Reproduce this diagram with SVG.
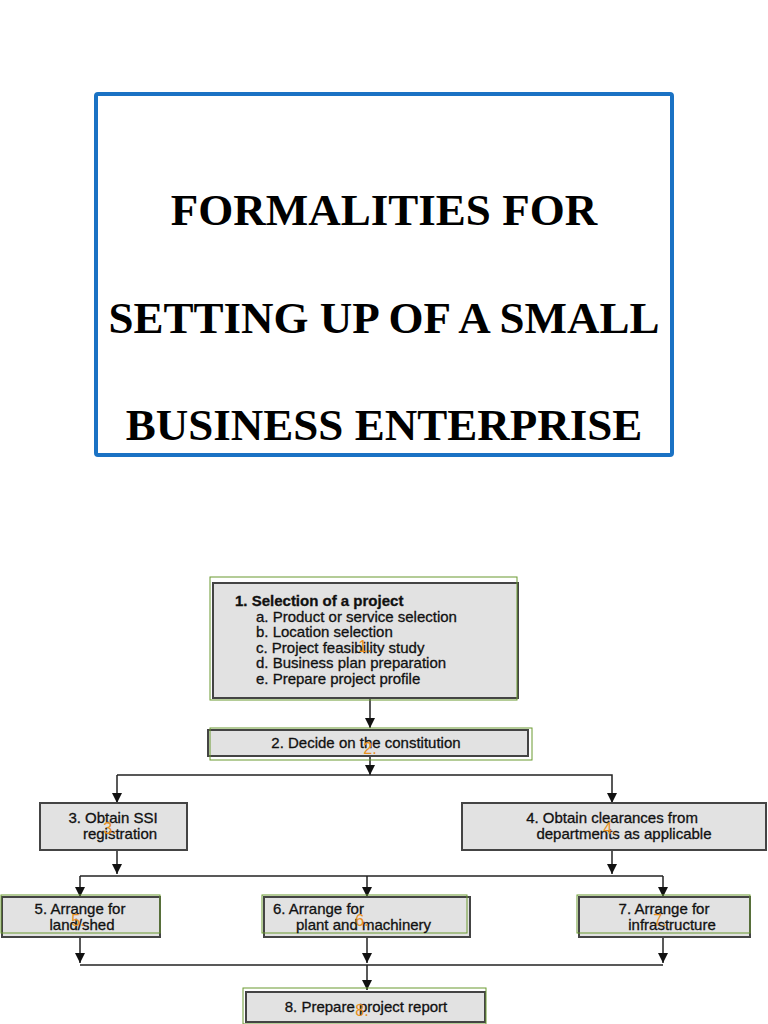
<svg xmlns="http://www.w3.org/2000/svg" width="768" height="1024" viewBox="0 0 768 1024">
<defs>
<style>
.title{font-family:"Liberation Serif",serif;font-weight:bold;font-size:45px;text-anchor:middle;fill:#000}
.box{fill:#e2e2e2;stroke:#444;stroke-width:2}
.gb{fill:none;stroke:#6a9a30;stroke-width:1}
.t{font-family:"Liberation Sans",Arial,sans-serif;font-size:15px;fill:#111;stroke:#111;stroke-width:0.3}
.tb{font-weight:bold}
.c{text-anchor:middle}
.o{font-family:"Liberation Sans",sans-serif;font-size:16px;fill:#e8901c;text-anchor:middle}
.ln{stroke:#222;stroke-width:1.5;fill:none}
</style>
<marker id="a" viewBox="0 0 10 10" refX="10" refY="5" markerWidth="7" markerHeight="7" orient="auto"><path d="M0,0L10,5L0,10z" fill="#111"/></marker>
</defs>
<rect width="768" height="1024" fill="#fff"/>
<g id="title">
<rect x="96" y="94" width="576" height="361" fill="none" stroke="#1a72c4" stroke-width="4" rx="2"/>
<text class="title" x="384" y="225">FORMALITIES FOR</text>
<text class="title" x="384" y="333">SETTING UP OF A SMALL</text>
<text class="title" x="384" y="440">BUSINESS ENTERPRISE</text>
</g>
<g id="connectors" class="ln">
<line x1="370" y1="698" x2="370" y2="728" marker-end="url(#a)"/>
<line x1="370" y1="756" x2="370" y2="775" marker-end="url(#a)"/>
<polyline points="117,775 612,775 612,803" marker-end="url(#a)"/>
<line x1="117" y1="775" x2="117" y2="803" marker-end="url(#a)"/>
<line x1="117" y1="850" x2="117" y2="874" marker-end="url(#a)"/>
<line x1="612" y1="850" x2="612" y2="874" marker-end="url(#a)"/>
<line x1="80" y1="876" x2="663" y2="876"/>
<line x1="80" y1="876" x2="80" y2="897" marker-end="url(#a)"/>
<line x1="367" y1="876" x2="367" y2="897" marker-end="url(#a)"/>
<line x1="663" y1="876" x2="663" y2="897" marker-end="url(#a)"/>
<line x1="80" y1="937" x2="80" y2="963" marker-end="url(#a)"/>
<line x1="367" y1="937" x2="367" y2="963" marker-end="url(#a)"/>
<line x1="663" y1="937" x2="663" y2="963" marker-end="url(#a)"/>
<line x1="80" y1="965" x2="663" y2="965"/>
<line x1="367" y1="965" x2="367" y2="990" marker-end="url(#a)"/>
</g>
<g id="n1">
<rect class="box" x="213" y="583" width="305" height="115"/>
<rect class="gb" x="210" y="577" width="307" height="123"/>
<text class="t tb" x="235" y="606">1. Selection of a project</text>
<text class="t" x="256" y="622">a. Product or service selection</text>
<text class="t" x="256" y="637">b. Location selection</text>
<text class="t" x="256" y="653">c. Project feasibility study</text>
<text class="t" x="256" y="668">d. Business plan preparation</text>
<text class="t" x="256" y="684">e. Prepare project profile</text>
<text class="o" x="365" y="652">1.</text>
</g>
<g id="n2">
<rect class="box" x="208" y="730" width="320" height="26"/>
<rect class="gb" x="210" y="728" width="322" height="32"/>
<text class="t c" x="366" y="748">2. Decide on the constitution</text>
<text class="o" x="370" y="754">2.</text>
</g>
<g id="n3">
<rect class="box" x="40" y="803" width="147" height="47"/>
<text class="t c" x="113" y="823">3. Obtain SSI</text>
<text class="t c" x="120" y="839">registration</text>
<text class="o" x="110" y="834">3.</text>
</g>
<g id="n4">
<rect class="box" x="462" y="803" width="304" height="47"/>
<text class="t c" x="612" y="823">4. Obtain clearances from</text>
<text class="t c" x="624" y="839">departments as applicable</text>
<text class="o" x="610" y="834">4.</text>
</g>
<g id="n5">
<rect class="box" x="2" y="897" width="158" height="40"/>
<rect class="gb" x="1" y="895" width="159" height="38"/>
<text class="t c" x="80" y="914">5. Arrange for</text>
<text class="t c" x="82" y="930">land/shed</text>
<text class="o" x="78" y="926">5.</text>
</g>
<g id="n6">
<rect class="box" x="264" y="897" width="206" height="40"/>
<rect class="gb" x="262" y="895" width="205" height="38"/>
<text class="t" x="273" y="914">6. Arrange for</text>
<text class="t" x="296" y="930">plant and machinery</text>
<text class="o" x="362" y="926">6.</text>
</g>
<g id="n7">
<rect class="box" x="579" y="897" width="171" height="40"/>
<rect class="gb" x="577" y="895" width="173" height="38"/>
<text class="t c" x="664" y="914">7. Arrange for</text>
<text class="t c" x="672" y="930">infrastructure</text>
<text class="o" x="660" y="926">7.</text>
</g>
<g id="n8">
<rect class="box" x="246" y="992" width="239" height="30"/>
<rect class="gb" x="243" y="988" width="243" height="36"/>
<text class="t c" x="366" y="1012">8. Prepare project report</text>
<text class="o" x="362" y="1016">8.</text>
</g>
</svg>
